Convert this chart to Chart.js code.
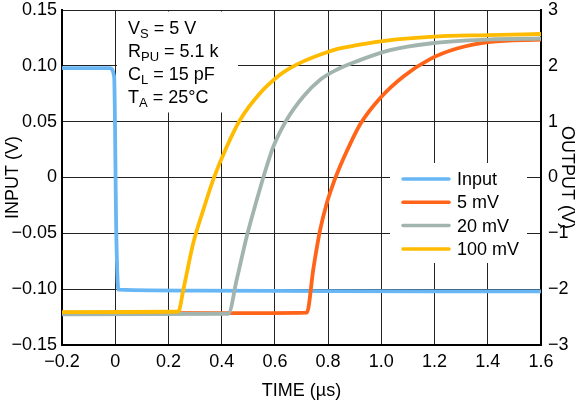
<!DOCTYPE html>
<html>
<head>
<meta charset="utf-8">
<script src="https://cdn.jsdelivr.net/npm/chart.js@4/dist/chart.umd.min.js"></script>
<style>
  html, body { margin: 0; padding: 0; background: #fff; }
  #wrap { width: 584px; height: 410px; }
</style>
</head>
<body>
<div id="wrap"><canvas id="chart" width="584" height="410"></canvas></div>
<script>
// axis ticks
const xTicks = [-0.2, 0, 0.2, 0.4, 0.6, 0.8, 1.0, 1.2, 1.4, 1.6];
const xTickLabels = ["\u22120.2", "0", "0.2", "0.4", "0.6", "0.8", "1.0", "1.2", "1.4", "1.6"];
const inputTicks = [-0.15, -0.10, -0.05, 0, 0.05, 0.10, 0.15];
const inputTickLabels = ["\u22120.15", "\u22120.10", "\u22120.05", "0", "0.05", "0.10", "0.15"];
const outputTicks = [-3, -2, -1, 0, 1, 2, 3];
const outputTickLabels = ["\u22123", "\u22122", "\u22121", "0", "1", "2", "3"];

// series (time in us, volts)
const inputTime = [-0.2, -0.02, -0.004, 0.004, 0.012, 0.3, 0.8, 1.2, 1.6];
const inputVolts = [0.098, 0.098, 0.09, -0.05, -0.1005, -0.1013, -0.1018, -0.102, -0.102];

const out5Time = [-0.2, 0.4, 0.72, 0.745, 0.77, 0.795, 0.82, 0.845, 0.87, 0.92, 0.995, 1.083, 1.183, 1.284, 1.409, 1.6];
const out5Volts = [-2.42, -2.43, -2.42, -1.62, -0.94, -0.46, -0.1, 0.2, 0.47, 0.95, 1.42, 1.81, 2.12, 2.31, 2.43, 2.47];

const out20Time = [-0.2, 0.425, 0.456, 0.494, 0.532, 0.557, 0.594, 0.644, 0.707, 0.77, 0.832, 0.907, 1.033, 1.183, 1.4, 1.6];
const out20Volts = [-2.45, -2.44, -1.84, -1.06, -0.4, 0.01, 0.55, 1.03, 1.45, 1.75, 1.93, 2.08, 2.28, 2.4, 2.47, 2.49];

const out100Time = [-0.2, 0.237, 0.256, 0.293, 0.331, 0.369, 0.419, 0.469, 0.544, 0.619, 0.657, 0.707, 0.782, 0.832, 0.907, 1.033, 1.183, 1.4, 1.6];
const out100Volts = [-2.41, -2.4, -2.01, -1.18, -0.58, -0.03, 0.55, 1.03, 1.51, 1.84, 1.96, 2.08, 2.22, 2.3, 2.37, 2.46, 2.52, 2.55, 2.57];

const legendLabels = ["Input", "5 mV", "20 mV", "100 mV"];
const noteLines = [
  ["V", "S", " = 5 V"],
  ["R", "PU", " = 5.1 k"],
  ["C", "L", " = 15 pF"],
  ["T", "A", " = 25\u00b0C"]
];

const FONT = "'Liberation Sans', Arial, sans-serif";
const colors = { input: "#68b6f4", v5: "#ff6418", v20: "#a2b4ae", v100: "#ffbb00" };

const pts = (xs, ys) => xs.map((x, i) => ({ x: x, y: ys[i] }));

function setTicks(values) {
  return scale => { scale.ticks = values.map(v => ({ value: v })); };
}

// fixed axis sizes so the plot area sits where the original has it
function fitWidth(w) {
  return s => { s.width = w; s.paddingTop = 10; s.paddingBottom = 0; };
}

// white boxes, note text and legend drawn inside the plot
const overlayPlugin = {
  id: "overlay",
  beforeDatasetsDraw(chart) {
    const { ctx, chartArea: a } = chart;
    ctx.save();
    ctx.fillStyle = "#fff";
    ctx.fillRect(a.left + 55, a.top + 1.5, 121, 101);
    ctx.fillRect(a.left + 328, a.top + 153, 137, 100);
    ctx.restore();
  },
  afterDatasetsDraw(chart) {
    const { ctx, chartArea: a } = chart;
    ctx.save();
    ctx.fillStyle = "#000";
    ctx.textBaseline = "alphabetic";
    noteLines.forEach((ln, i) => {
      let x = a.left + 66;
      const y = a.top + 23.5 + i * 23.3;
      ctx.font = "18px " + FONT;
      ctx.fillText(ln[0], x, y);
      x += ctx.measureText(ln[0]).width;
      ctx.font = "13px " + FONT;
      ctx.fillText(ln[1], x, y + 4);
      x += ctx.measureText(ln[1]).width;
      ctx.font = "18px " + FONT;
      ctx.fillText(ln[2], x, y);
    });

    const sets = [0, 1, 2, 3].map(i => chart.data.datasets.find(d => d.legendIndex === i));
    sets.forEach((ds, i) => {
      const y = a.top + 169 + i * 23.3;
      ctx.strokeStyle = ds.borderColor;
      ctx.lineWidth = 3.5;
      ctx.lineCap = "round";
      ctx.beginPath();
      ctx.moveTo(a.left + 341, y);
      ctx.lineTo(a.left + 387, y);
      ctx.stroke();
      ctx.font = "18px " + FONT;
      ctx.textBaseline = "middle";
      ctx.fillStyle = "#000";
      ctx.fillText(legendLabels[i], a.left + 395, y + 1);
    });
    ctx.restore();
  }
};

const lineStyle = {
  borderWidth: 3.8,
  pointRadius: 0,
  fill: false,
  cubicInterpolationMode: "monotone"
};

const tickFont = { family: FONT, size: 18 };

new Chart(document.getElementById("chart"), {
  type: "line",
  data: {
    datasets: [
      Object.assign({ label: legendLabels[3], legendIndex: 3, data: pts(out100Time, out100Volts), borderColor: colors.v100, yAxisID: "y1", order: 1 }, lineStyle),
      Object.assign({ label: legendLabels[2], legendIndex: 2, data: pts(out20Time, out20Volts), borderColor: colors.v20, yAxisID: "y1", order: 2 }, lineStyle),
      Object.assign({ label: legendLabels[1], legendIndex: 1, data: pts(out5Time, out5Volts), borderColor: colors.v5, yAxisID: "y1", order: 3 }, lineStyle),
      Object.assign({ label: legendLabels[0], legendIndex: 0, data: pts(inputTime, inputVolts), borderColor: colors.input, yAxisID: "y", order: 4 }, lineStyle)
    ]
  },
  options: {
    responsive: false,
    animation: false,
    devicePixelRatio: 1,
    layout: { padding: { top: 10, left: 0, right: 0, bottom: 0 } },
    plugins: { legend: { display: false }, tooltip: { enabled: false } },
    scales: {
      x: {
        type: "linear",
        min: -0.2,
        max: 1.6,
        afterBuildTicks: setTicks(xTicks),
        afterFit: s => { s.height = 65; s.paddingLeft = 0; s.paddingRight = 0; },
        grid: { color: "#222", lineWidth: 1, drawTicks: false },
        border: { color: "#000", width: 2 },
        ticks: {
          padding: 6,
          color: "#000",
          font: tickFont,
          callback: (v, i) => xTickLabels[i]
        },
        title: {
          display: true,
          text: "TIME (\u00b5s)",
          color: "#000",
          font: tickFont,
          padding: { top: 0, bottom: 8 }
        }
      },
      y: {
        position: "left",
        min: -0.15,
        max: 0.15,
        afterBuildTicks: setTicks(inputTicks),
        afterFit: fitWidth(62),
        grid: { color: "#222", lineWidth: 1, drawTicks: false },
        border: { color: "#000", width: 2 },
        ticks: {
          padding: 5,
          color: "#000",
          font: tickFont,
          callback: (v, i) => inputTickLabels[i]
        },
        title: {
          display: true,
          text: "INPUT (V)",
          color: "#000",
          font: tickFont,
          padding: { top: 2, bottom: 0 }
        }
      },
      y1: {
        position: "right",
        min: -3,
        max: 3,
        afterBuildTicks: setTicks(outputTicks),
        afterFit: fitWidth(43),
        grid: { drawOnChartArea: false, drawTicks: false },
        border: { color: "#000", width: 2 },
        ticks: {
          padding: 7,
          color: "#000",
          font: tickFont,
          callback: (v, i) => outputTickLabels[i]
        },
        title: {
          display: true,
          text: "OUTPUT (V)",
          color: "#000",
          font: tickFont,
          padding: { top: 6, bottom: 0 }
        }
      }
    }
  },
  plugins: [overlayPlugin]
});
</script>
</body>
</html>
